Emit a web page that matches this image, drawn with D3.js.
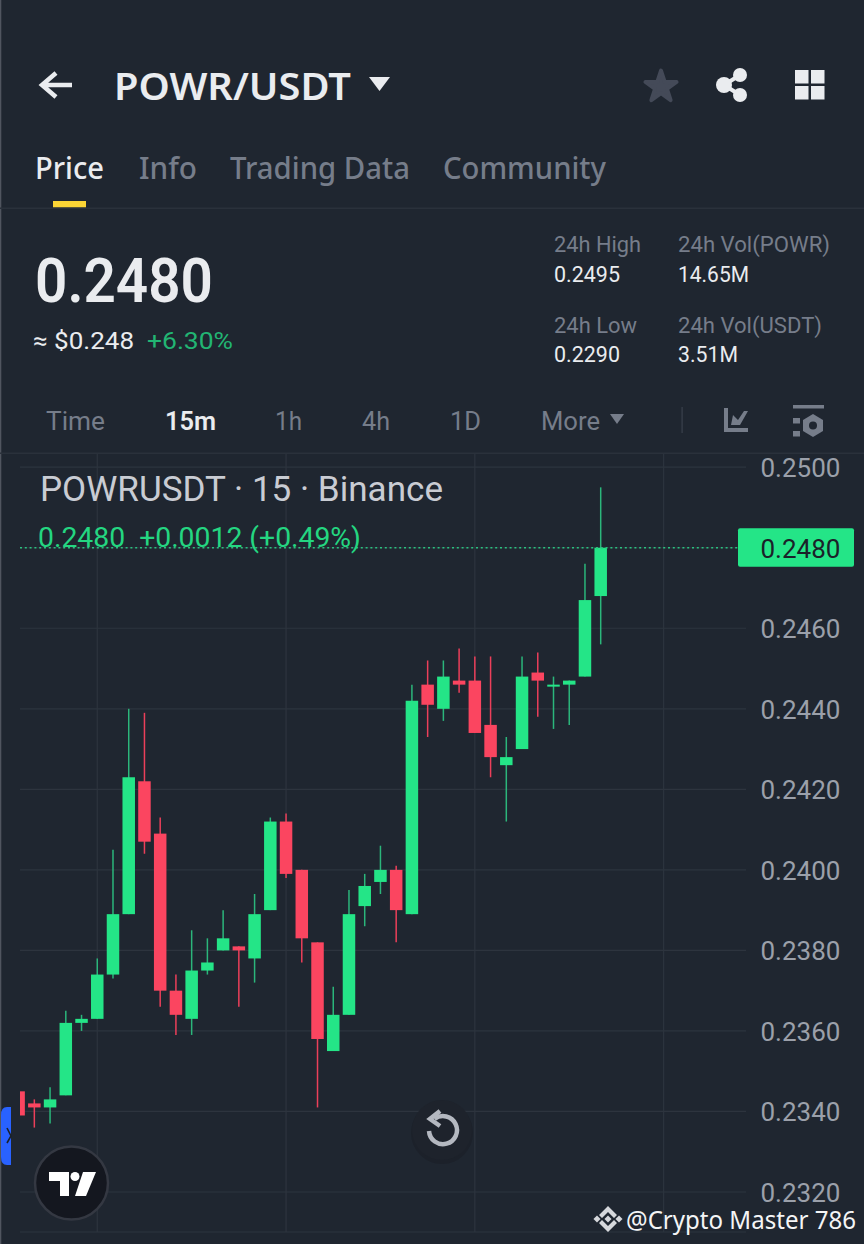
<!DOCTYPE html>
<html>
<head>
<meta charset="utf-8">
<script src="https://cdn.jsdelivr.net/npm/d3@7"></script>
<style>
  html, body { margin: 0; padding: 0; background: #1f2630; }
  svg { display: block; }
</style>
</head>
<body>
<div id="chart"></div>
<script>
// 15m candles (tick size is 0.0001)
const opens  = [.2345,.2342,.2341,.2344,.2362,.2363,.2374,.2389,.2422,.2409,.2370,.2363,.2375,.2380,.2381,.2378,.2390,.2412,.2400,.2382,.2355,.2364,.2391,.2397,.2400,.2389,.2446,.2440,.2447,.2447,.2436,.2426,.2430,.2449,.2446,.2446,.2448,.2468];
const highs  = [.2345,.2343,.2346,.2365,.2364,.2378,.2405,.2440,.2439,.2413,.2374,.2385,.2383,.2390,.2381,.2394,.2413,.2414,.2400,.2382,.2371,.2395,.2399,.2406,.2401,.2446,.2452,.2452,.2455,.2453,.2453,.2433,.2453,.2454,.2448,.2447,.2476,.2495];
const lows   = [.2339,.2336,.2337,.2344,.2360,.2363,.2373,.2389,.2404,.2366,.2359,.2359,.2374,.2380,.2366,.2372,.2390,.2398,.2377,.2341,.2355,.2364,.2386,.2394,.2382,.2389,.2433,.2437,.2444,.2434,.2423,.2412,.2430,.2438,.2435,.2436,.2448,.2456];
const closes = [.2339,.2341,.2343,.2362,.2363,.2374,.2389,.2423,.2407,.2370,.2364,.2375,.2377,.2383,.2380,.2389,.2412,.2399,.2383,.2358,.2364,.2389,.2396,.2400,.2390,.2442,.2441,.2448,.2446,.2434,.2428,.2428,.2448,.2447,.2446,.2447,.2467,.2480];

const priceTicks = [.2500,.2460,.2440,.2420,.2400,.2380,.2360,.2340,.2320];
const timeTicks = [5, 17, 29, 41];
const lastPrice = .2480;

const tabs = ["Price", "Info", "Trading Data", "Community"];
const tabX = [35, 139, 230, 443];
const tabW = [69, 58, 180, 163];
const intervals = ["Time", "15m", "1h", "4h", "1D", "More"];
const intervalX = [46, 165, 275, 362, 450, 541];
const intervalW = [59, 51, 27, 28, 31, 59];

const width = 864, height = 1244;
const bg = "#1f2630", green = "#24e587", red = "#fb4560";
const grid = "#2d343e", soft = "#767d8a", white = "#eaecef";

const svg = d3.select("#chart").append("svg")
    .attr("width", width)
    .attr("height", height)
    .style("font-family", "Roboto, sans-serif");

svg.append("rect").attr("width", width).attr("height", height).attr("fill", bg);
svg.append("rect").attr("width", 1.3).attr("height", height).attr("fill", "#50555f");

// text helper, w squeezes the string to the measured width of the original
function label(x, y, str, size, weight, color, w, family) {
    const t = svg.append("text")
        .attr("x", x).attr("y", y)
        .attr("font-size", size)
        .attr("font-weight", weight)
        .attr("fill", color)
        .text(str);
    if (w) t.attr("textLength", w).attr("lengthAdjust", "spacingAndGlyphs");
    if (family) t.attr("font-family", family);
    return t;
}

// Header
svg.append("path").attr("d", "M72 85H43M56 73L42 85L56 97")
    .attr("fill", "none").attr("stroke", white).attr("stroke-width", 4.5);
label(114, 100, "POWR/USDT", 38, 600, white, 237, "'Noto Sans'");
svg.append("path").attr("d", "M369 77H390L379.500 91Z").attr("fill", white);
svg.append("path")
    .attr("d", d3.symbol().type(d3.symbolStar).size(300))
    .attr("transform", "translate(661,87)")
    .attr("fill", "#444a58")
    .attr("stroke", "#444a58").attr("stroke-width", 4).attr("stroke-linejoin", "round");
svg.append("path").attr("d", "M740 75L724 85L740 95")
    .attr("fill", "none").attr("stroke", white).attr("stroke-width", 4);
[[740, 75, 7], [724, 85, 8], [740, 95, 7]].forEach(c =>
    svg.append("circle").attr("cx", c[0]).attr("cy", c[1]).attr("r", c[2]).attr("fill", white));
[[795, 70], [811, 70], [795, 86], [811, 86]].forEach(c =>
    svg.append("rect").attr("x", c[0]).attr("y", c[1]).attr("width", 13.500).attr("height", 13.500).attr("fill", white));

tabs.forEach((t, i) => label(tabX[i], 179, t, 30, 500, i === 0 ? white : soft, tabW[i], "'Noto Sans'"));
svg.append("rect").attr("x", 53).attr("y", 201).attr("width", 33).attr("height", 6.500).attr("fill", "#fcd535");
svg.append("rect").attr("x", 0).attr("y", 207.500).attr("width", width).attr("height", 1.500).attr("fill", "#2a313b");

// Ticker block
label(35, 302, "0.2480", 62, 600, white, 178);
label(33, 349, "≈ $0.248", 24, 400, white, 101);
label(147, 349, "+6.30%", 24, 400, "#22b573", 86);
label(554, 252, "24h High", 22, 400, soft, 87);
label(678, 252, "24h Vol(POWR)", 22, 400, soft, 152);
label(554, 282, "0.2495", 22, 400, white, 66);
label(678, 282, "14.65M", 22, 400, white, 71);
label(554, 333, "24h Low", 22, 400, soft, 83);
label(678, 333, "24h Vol(USDT)", 22, 400, soft, 144);
label(554, 362, "0.2290", 22, 400, white, 66);
label(678, 362, "3.51M", 22, 400, white, 60);

// Interval row
intervals.forEach((t, i) => label(intervalX[i], 430, t, 26, i === 1 ? 600 : 400, i === 1 ? white : soft, intervalW[i]));
svg.append("path").attr("d", "M610 414H624L617 424Z").attr("fill", soft);
svg.append("rect").attr("x", 681.500).attr("y", 407).attr("width", 1.200).attr("height", 26).attr("fill", "#3a414c");
svg.append("path").attr("d", "M724 408H728V428H748V432H724ZM731 425L733 415L738 420L744 411L748 411L740 425Z").attr("fill", soft);
svg.append("rect").attr("x", 793).attr("y", 405).attr("width", 31).attr("height", 3.500).attr("fill", soft);
svg.append("rect").attr("x", 793).attr("y", 418).attr("width", 7).attr("height", 5.500).attr("fill", soft);
svg.append("rect").attr("x", 793).attr("y", 431).attr("width", 7).attr("height", 5.500).attr("fill", soft);
svg.append("path").attr("d", "M813 414L823 420V431L813 437L803 431V420Z").attr("fill", soft);
svg.append("circle").attr("cx", 813).attr("cy", 425.500).attr("r", 4).attr("fill", bg);
svg.append("rect").attr("x", 0).attr("y", 452.500).attr("width", width).attr("height", 1.500).attr("fill", "#2a313b");

// Scales: one candle slot is 15.74px, last candle centred at 600.7
const x = d3.scaleLinear().domain([0, closes.length - 1]).range([18.6, 600.7]);
const y = d3.scaleLinear().domain([.2320, .2500]).range([1192, 467.2]);
const bodyW = 12.5;

// Gridlines
svg.append("g").selectAll("line")
    .data(timeTicks)
    .join("line")
    .attr("x1", d => x(d)).attr("x2", d => x(d))
    .attr("y1", 454).attr("y2", 1232)
    .attr("stroke", grid).attr("stroke-width", 1.2);
svg.append("g").selectAll("line")
    .data(priceTicks.concat([lastPrice]))
    .join("line")
    .attr("x1", 20).attr("x2", 746)
    .attr("y1", d => y(d)).attr("y2", d => y(d))
    .attr("stroke", grid).attr("stroke-width", 1.2);
svg.append("line").attr("x1", 20).attr("x2", 746).attr("y1", 1232).attr("y2", 1232)
    .attr("stroke", grid).attr("stroke-width", 1.2);

// Price axis
const axis = d3.axisRight(y).tickValues(priceTicks).tickFormat(d3.format(".4f")).tickSize(0).tickPadding(0);
const axisG = svg.append("g").attr("transform", "translate(760.5,1)").call(axis);
axisG.select(".domain").remove();
axisG.selectAll("text")
    .attr("font-family", "Roboto, sans-serif")
    .attr("font-size", 26)
    .attr("fill", "#9ba0aa");

// Candles
svg.append("defs").append("clipPath").attr("id", "plot")
    .append("rect").attr("x", 20).attr("y", 454).attr("width", 720).attr("height", 780);

const candles = svg.append("g").attr("clip-path", "url(#plot)");
const rows = closes.map((c, i) => ({i, o: opens[i], h: highs[i], l: lows[i], c}));
const colour = d => d.c >= d.o ? green : red;

candles.selectAll("line.wick").data(rows).join("line")
    .attr("class", "wick")
    .attr("x1", d => x(d.i)).attr("x2", d => x(d.i))
    .attr("y1", d => y(d.h)).attr("y2", d => y(d.l))
    .attr("stroke", d => d.c >= d.o ? "#2bb67b" : "#ec3f5a")
    .attr("stroke-width", 1.5);
candles.selectAll("rect.body").data(rows).join("rect")
    .attr("class", "body")
    .attr("x", d => x(d.i) - bodyW / 2)
    .attr("width", bodyW)
    .attr("y", d => y(Math.max(d.o, d.c)))
    .attr("height", d => Math.max(2, Math.abs(y(d.o) - y(d.c))))
    .attr("fill", colour);

// Last price line and tag
svg.append("line")
    .attr("x1", 20).attr("x2", 738)
    .attr("y1", y(lastPrice)).attr("y2", y(lastPrice))
    .attr("stroke", "#2bc07f").attr("stroke-width", 1.6).attr("stroke-dasharray", "2 2.8");
svg.append("rect").attr("x", 738).attr("y", y(lastPrice) - 19.5)
    .attr("width", 116).attr("height", 38.5).attr("rx", 2).attr("fill", green);
label(760.5, y(lastPrice) + 10, d3.format(".4f")(lastPrice), 26, 400, "#1b2129");

// Chart legend
label(40, 501, "POWRUSDT · 15 · Binance", 35, 400, "#c9ccd3", 403);
label(38, 547, "0.2480  +0.0012 (+0.49%)", 27, 400, "#24d681", 323).style("white-space", "pre");

// Blue side tab
svg.append("path").attr("d", "M11 1107H7Q1 1107 1 1115V1157Q1 1165 7 1165H11Z").attr("fill", "#2962ff");
svg.append("path").attr("d", "M7 1128L11 1136L7 1143")
    .attr("fill", "none").attr("stroke", "#1b2129").attr("stroke-width", 1.6);

// TradingView badge
svg.append("circle").attr("cx", 71.500).attr("cy", 1183).attr("r", 36.500)
    .attr("fill", "#14171f").attr("stroke", "#343842").attr("stroke-width", 2.500);
svg.append("path").attr("d", "M49 1172H69V1196H60V1181H49Z").attr("fill", "#fff");
svg.append("circle").attr("cx", 75).attr("cy", 1176.500).attr("r", 4.500).attr("fill", "#fff");
svg.append("path").attr("d", "M83 1172H96L86 1196H75Z").attr("fill", "#fff");

// Reset button
svg.append("circle").attr("cx", 442).attr("cy", 1133).attr("r", 31).attr("fill", "#1b1f28").attr("opacity", 0.7);
svg.append("circle").attr("cx", 442).attr("cy", 1130).attr("r", 30).attr("fill", "#1e232c");
svg.append("path").attr("d", "M434.500 1119A14 14 0 1 1 429 1131")
    .attr("fill", "none").attr("stroke", "#b4b8c0").attr("stroke-width", 4.500);
svg.append("path").attr("d", "M440 1111L430 1119L440 1126")
    .attr("fill", "none").attr("stroke", "#b4b8c0").attr("stroke-width", 4.500);

// Watermark: two chevrons and three small diamonds
const mark = svg.append("g").attr("transform", "translate(608,1219)").attr("fill", "#d6d8dc");
mark.append("path").attr("d", "M0 -13L9 -4L6 -1L0 -7L-6 -1L-9 -4Z");
mark.append("path").attr("d", "M0 13L9 4L6 1L0 7L-6 1L-9 4Z");
[[-11, 0], [11, 0], [0, 0]].forEach(c =>
    mark.append("rect").attr("x", c[0] - 2.500).attr("y", c[1] - 2.500)
        .attr("width", 5).attr("height", 5)
        .attr("transform", `rotate(45 ${c[0]} ${c[1]})`));
label(626, 1229, "@Crypto Master 786", 26, 400, "#f4f5f6", 230, "'Noto Sans'");
</script>
</body>
</html>
